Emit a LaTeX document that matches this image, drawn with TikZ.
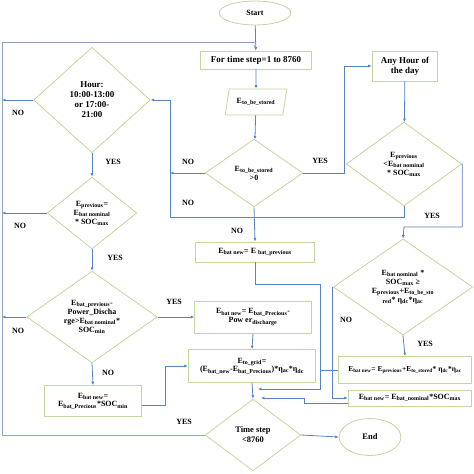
\documentclass[tikz,border=0pt]{standalone}
\usepackage{fontspec}
\setmainfont{Liberation Serif}
\usetikzlibrary{shapes.geometric,arrows.meta,calc}
\newcommand{\sbs}[1]{\textsubscript{#1}}
\definecolor{lc}{RGB}{88,130,196}
\definecolor{lc2}{RGB}{140,165,195}
\definecolor{bc}{RGB}{196,214,160}
\begin{document}
\begin{tikzpicture}[x=1bp,y=-1bp,
  font=\bfseries\fontsize{8}{9}\selectfont,
  big/.style={font=\bfseries\fontsize{9}{10}\selectfont},
  box/.style={draw=bc, line width=0.8pt, fill=white, align=center, inner sep=1pt},
  dia/.style={diamond, draw=bc, line width=0.8pt, align=center, inner sep=0pt},
  term/.style={ellipse, draw=bc, line width=0.8pt, inner sep=0pt},
  para/.style={trapezium, trapezium left angle=72, trapezium right angle=108, trapezium stretches=true, draw=bc, line width=0.8pt, inner sep=1pt},
  arr/.style={draw=lc, line width=0.8pt, -{Latex[length=3.5pt,width=3pt]}},
  arr2/.style={draw=lc2, line width=0.8pt, -{Latex[length=3.5pt,width=3pt]}},
  ln/.style={draw=lc, line width=0.8pt},
  ln2/.style={draw=lc2, line width=0.8pt},
  lbl/.style={inner sep=0pt}]
\fill[white] (0,0) rectangle (474,474);
\useasboundingbox (0,0) rectangle (474,474);

% nodes
\node[term, minimum width=72, minimum height=24] (start) at (255,13) {Start};
\node[box, big, minimum width=112, minimum height=18] (loop) at (256,60) {For time step=1 to 8760};
\node[para, minimum width=62, minimum height=26] (store) at (256,102) {E\sbs{to\_be\_stored}};
\node[dia, minimum width=98, minimum height=68] (d1) at (254,173) {E\sbs{to\_be\_stored}\\>0};
\node[box, big, minimum width=66, minimum height=30] (anyh) at (405,66) {Any Hour of\\the day};
\node[dia, minimum width=116, minimum height=84] (d2) at (404,164) {E\sbs{previous}\\<E\sbs{bat nominal}\\* SOC\sbs{max}};
\node[dia, minimum width=140, minimum height=96] (d3) at (403,287) {E\sbs{bat nominal} *\\SOC\sbs{max} ≥\\E\sbs{previous}+E\sbs{to\_be\_sto}\\\sbs{red}* η\sbs{dc}*η\sbs{ac}};
\node[box, minimum width=134, minimum height=27, font=\bfseries\fontsize{7.5}{9}\selectfont] (bnew3) at (405,370) {E\sbs{bat new}= E\sbs{previous}+E\sbs{to\_stored}* η\sbs{dc}*η\sbs{ac}};
\node[box, minimum width=124, minimum height=16] (bnom) at (410,398) {E\sbs{bat new}= E\sbs{bat\_nominal}*SOC\sbs{max}};
\node[box, minimum width=120, minimum height=20] (bprev) at (255,252) {E\sbs{bat new}= E \sbs{bat\_previous}};
\node[dia, big, minimum width=117, minimum height=106] (h) at (92,100) {Hour:\\10:00-13:00\\or 17:00-\\21:00};
\node[dia, minimum width=90, minimum height=72] (s) at (92,213) {E\sbs{previous}=\\E\sbs{bat nominal}\\* SOC\sbs{max}};
\node[dia, minimum width=131, minimum height=92] (p) at (92,317) {E\sbs{bat\_previous}-\\Power\_Discha\\rge>E\sbs{bat nominal}*\\SOC\sbs{min}};
\node[box, minimum width=117, minimum height=32] (bdis) at (253,317) {E\sbs{bat new}= E\sbs{bat\_Precious}-\\Pow er\sbs{discharge}};
\node[box, minimum width=128, minimum height=33] (grid) at (252,366) {E\sbs{to\_grid}=\\(E\sbs{bat\_new}-E\sbs{bat\_Precious})*η\sbs{ac}*η\sbs{dc}};
\node[box, minimum width=97, minimum height=31] (bmin) at (93,401) {E\sbs{bat new}=\\E\sbs{bat\_Precious}*SOC\sbs{min}};
\node[dia, font=\bfseries\fontsize{8.5}{10}\selectfont, minimum width=96, minimum height=72] (ts) at (253,435) {Time step\\<8760};
\node[term, font=\bfseries\fontsize{8.5}{10}\selectfont, minimum width=62, minimum height=37] (end) at (370,437) {End};

% helper coordinates
\coordinate (lft) at (2,42);
\coordinate (topj) at (255,42);
\coordinate (tipj) at (255,49);
\coordinate (cx) at (170,217);
\coordinate (yj) at (404,227);
\coordinate (c1) at (320,284);
\coordinate (j1) at (258,389);
\coordinate (c2) at (304,398);
\coordinate (j2) at (261,398);
\coordinate (c3) at (165,366);
\coordinate (c4) at (344,173);

% main flow
\draw[arr] (start) -- (loop);
\draw[ln2] (ts.west) -| (lft) -- (topj);
\draw[arr2] (topj) -- (tipj);
\draw[arr] (loop) -- (store);
\draw[arr] (store) -- (d1);
\draw[arr] (d1.east) -- (c4) |- (anyh.west);
\draw[arr] (anyh) -- (d2);
\draw[arr] (d2.east) |- (yj) -- (d3.north);
\draw[arr] (d3.south) -- (bnew3.north);
\draw[arr] (d3.west) |- (bnom.west);
\draw[arr] (d2.south) |- (cx) |- (h.east);
\draw[arr] (d1.west) -- (d1.west -| cx);
\draw[arr] (d1.south) -- (bprev.north);
\draw[arr] (bprev.south) |- (c1) |- (j1);
\draw[ln] (bnew3.west) -- (bnew3.west -| c1);
\draw[arr] ([yshift=-5pt]bnom.west) -| (c2) -- (j2);
\draw[arr] (grid.south) -- (ts.north);
\draw[arr] (bdis.south) -- (grid.north);
\draw[arr] (h.south) -- (s.north);
\draw[arr] (s.south) -- (p.north);
\draw[arr] (p.south) -- (bmin.north);
\draw[arr] (h.west) -- (h.west -| lft);
\draw[arr] (s.west) -- (s.west -| lft);
\draw[arr] (p.west) -- (p.west -| lft);
\draw[arr] (p.east) -- (bdis.west);
\draw[arr] ([yshift=-4pt]bmin.east) -| (c3) -- (grid.west);
\draw[arr] (ts.east) -- (end.west);

% labels
\node[lbl] (n1) at (18,113) {NO};
\node[lbl] (n2) at (188,162) {NO};
\node[lbl] (n3) at (188,203) {NO};
\node[lbl] (n4) at (20,226) {NO};
\node[lbl] (n5) at (237,231) {NO};
\node[lbl] (n6) at (18,331) {NO};
\node[lbl] (n7) at (346,320) {NO};
\node[lbl] (n8) at (108,373) {NO};
\node[lbl] (y1) at (320,161) {YES};
\node[lbl] (y2) at (113,162) {YES};
\node[lbl] (y3) at (432,216) {YES};
\node[lbl] (y4) at (115,258) {YES};
\node[lbl] (y5) at (174,302) {YES};
\node[lbl] (y6) at (425,344) {YES};
\node[lbl] (y7) at (184,422) {YES};
\end{tikzpicture}
\end{document}
